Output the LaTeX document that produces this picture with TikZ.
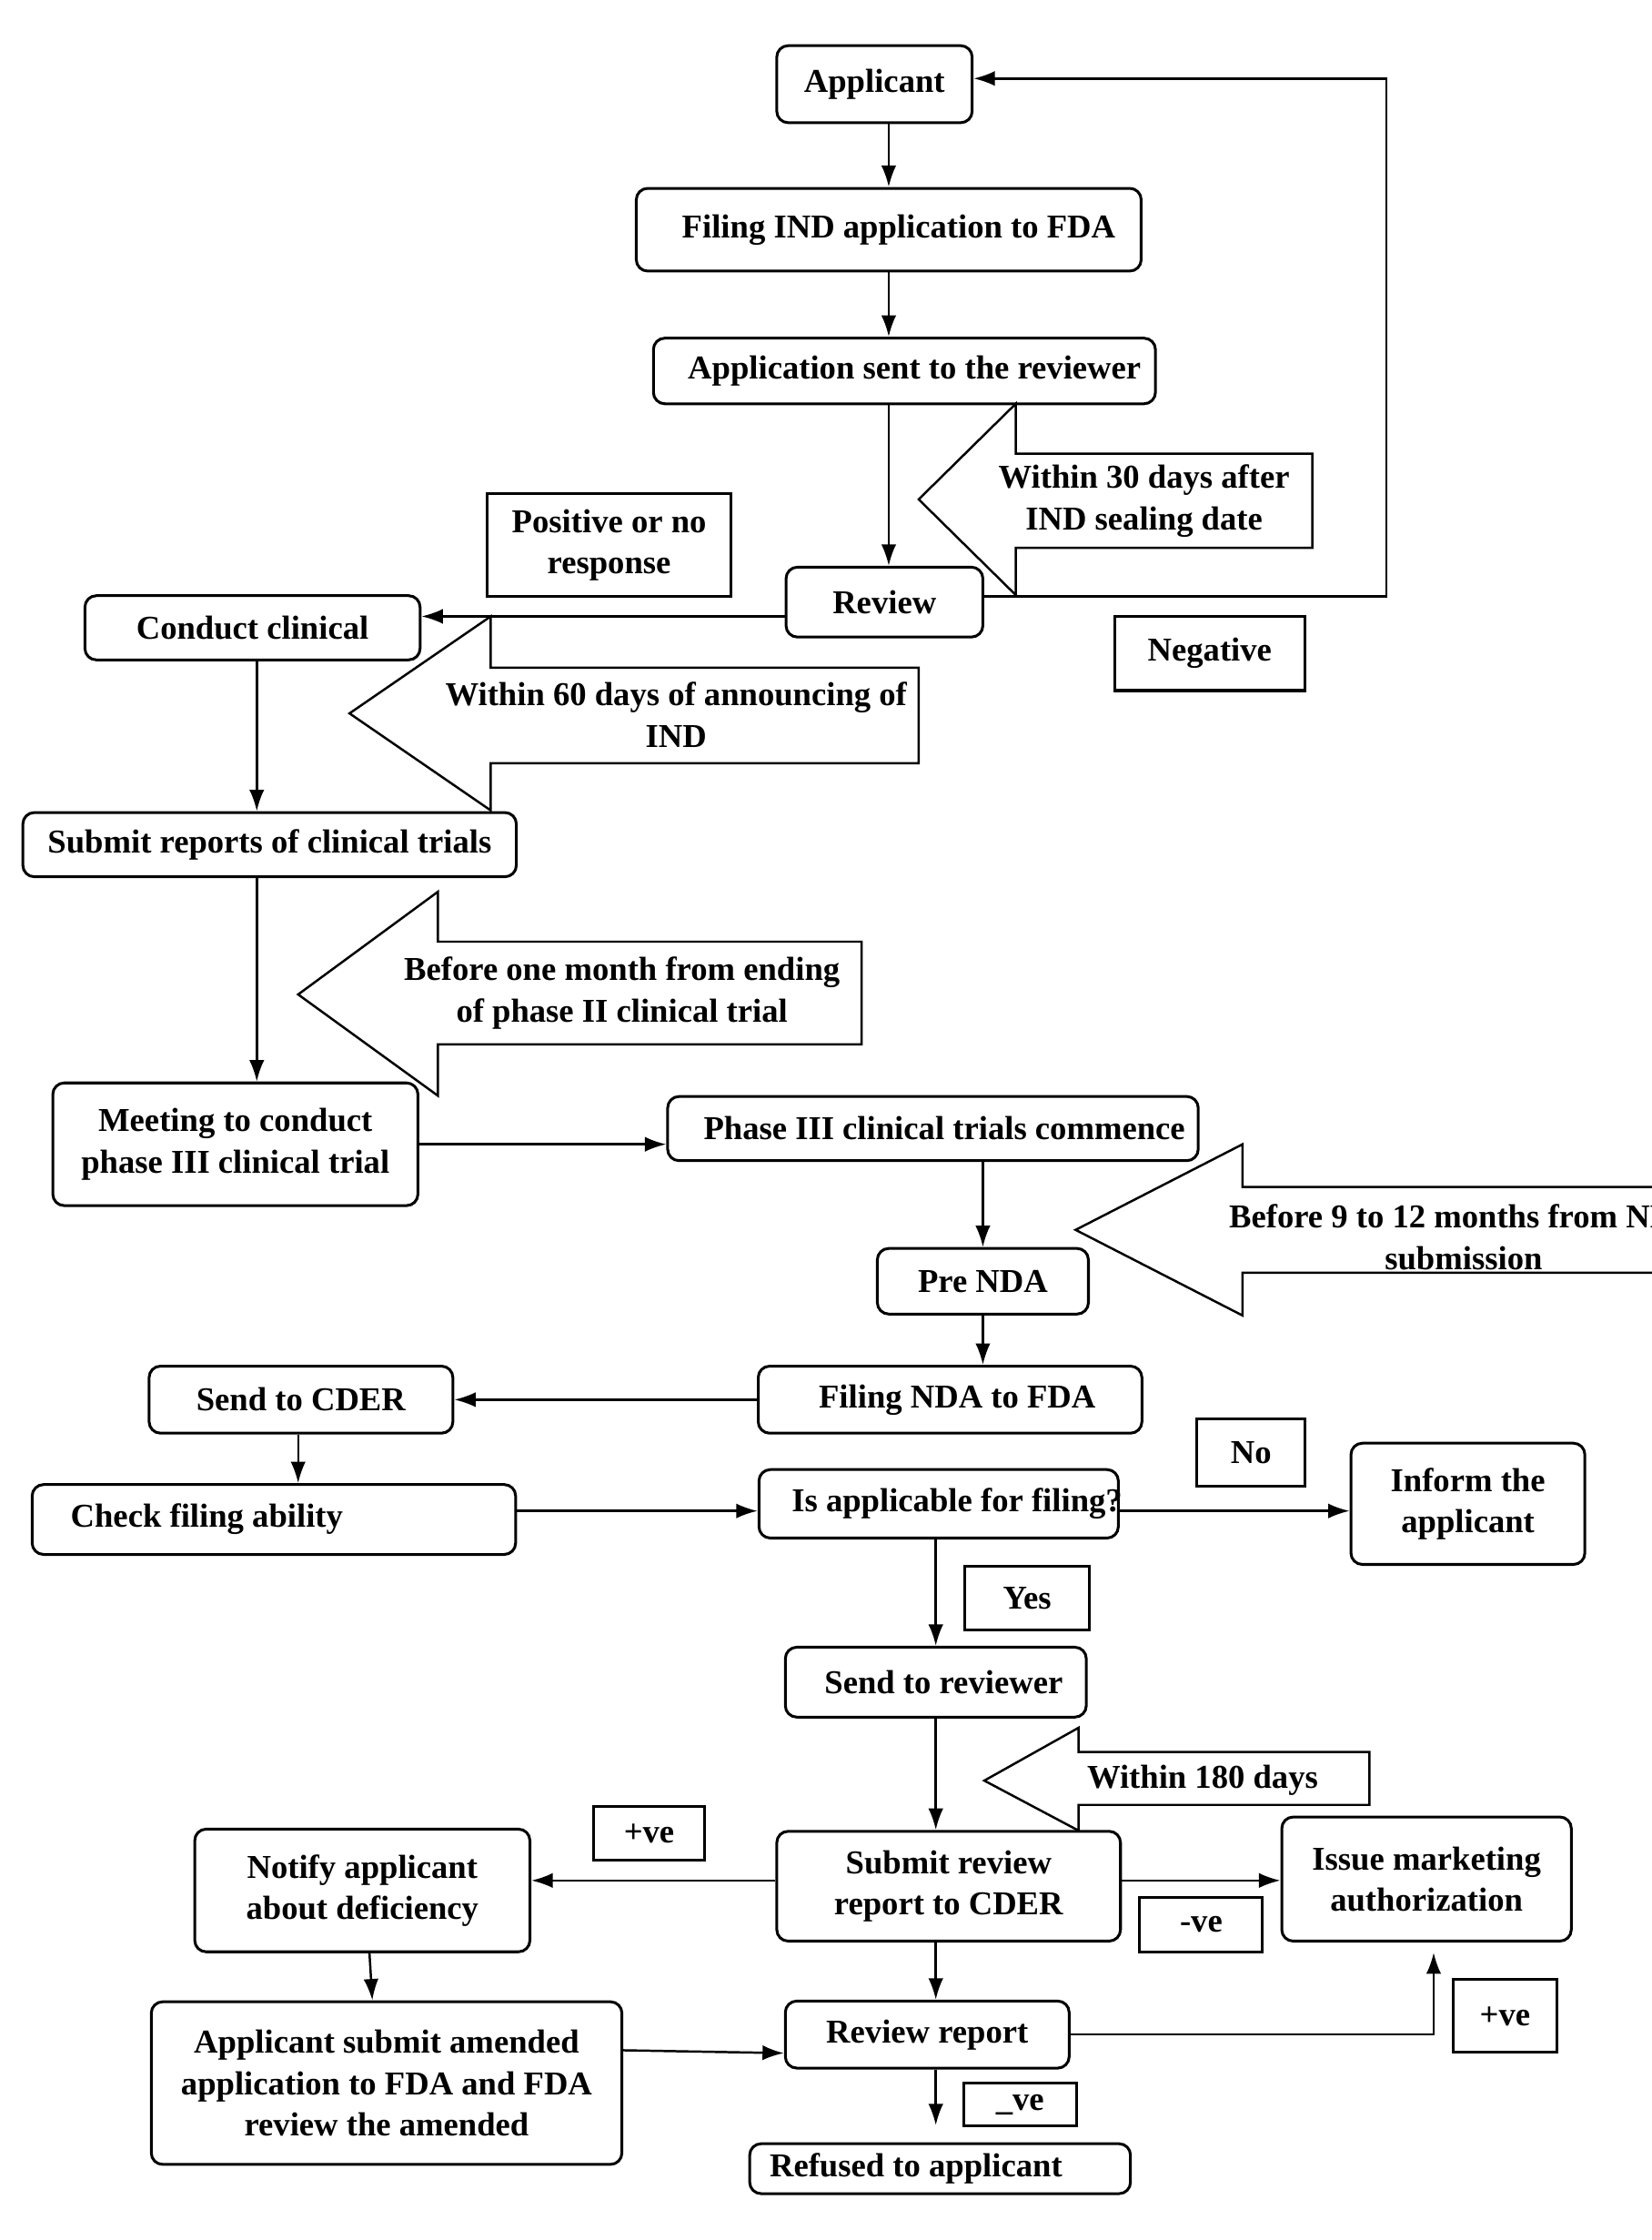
\documentclass[tikz,border=0pt]{standalone}
\usepackage{fontspec}
\setmainfont{Liberation Serif}
\usepackage{tikz}
\usetikzlibrary{arrows.meta,positioning}
\tikzset{stepbox/.style={draw,rounded corners=0.16cm,line width=1.1pt,inner sep=0,align=center,font=\bfseries\fontsize{13.3}{16.5}\selectfont}}
\tikzset{leftbox/.style={stepbox,align=left}}
\tikzset{tag/.style={draw,line width=1.1pt,inner sep=0,align=center,font=\bfseries\fontsize{13.3}{16.5}\selectfont}}
\tikzset{note/.style={inner sep=0,align=center,font=\bfseries\fontsize{13.3}{16.5}\selectfont}}
\tikzset{bigarrow/.style={draw,line width=0.9pt,line join=miter}}

\begin{document}
\begin{tikzpicture}[x=0.02cm,y=-0.02cm,>={Latex[length=0.3cm,width=0.21cm]},line width=0.9pt]
    \path[use as bounding box] (0,0) rectangle (1158,1570);
    \fill[white] (0,0) rectangle (1158,1570);
    \clip (0,0) rectangle (1158,1570);

    % steps
    \node[stepbox,minimum width=2.74cm,minimum height=1.08cm] (appl) at (613,59) {Applicant};
    \node[stepbox,minimum width=7.08cm,minimum height=1.16cm] (filind) at (623,161) {\hspace*{0.28cm}Filing IND application to FDA};
    \node[stepbox,minimum width=7.04cm,minimum height=0.92cm] (appsent) at (634,260) {\hspace*{0.28cm}Application sent to the reviewer};
    \node[stepbox,minimum width=2.76cm,minimum height=0.98cm] (review) at (620,422) {Review};
    \node[stepbox,minimum width=4.70cm,minimum height=0.90cm] (conduct) at (177,440) {Conduct clinical};
    \node[stepbox,minimum width=6.92cm,minimum height=0.90cm] (submit) at (189,592) {Submit reports of clinical trials};
    \node[stepbox,minimum width=5.12cm,minimum height=1.72cm] (meeting) at (165,802) {Meeting to conduct\\phase III clinical trial};
    \node[stepbox,minimum width=7.44cm,minimum height=0.90cm] (phase3) at (654,791) {\hspace*{0.32cm}Phase III clinical trials commence};
    \node[stepbox,minimum width=2.96cm,minimum height=0.92cm] (prenda) at (689,898) {Pre NDA};
    \node[stepbox,minimum width=5.38cm,minimum height=0.94cm] (filnda) at (666,981) {\hspace*{0.2cm}Filing NDA to FDA};
    \node[stepbox,minimum width=4.26cm,minimum height=0.94cm] (cder) at (211,981) {Send to CDER};
    \node[leftbox,minimum height=0.98cm,inner xsep=0.54cm] (check) at (192,1065) {\makebox[5.70cm][l]{Check filing ability}};
    \node[leftbox,minimum height=0.96cm,inner xsep=0.46cm] (isapp) at (658,1054) {\makebox[4.12cm][l]{Is applicable for filing?}};
    \node[stepbox,minimum width=3.28cm,minimum height=1.70cm] (inform) at (1029,1054) {Inform the\\applicant};
    \node[stepbox,minimum width=4.22cm,minimum height=0.98cm] (sendrev) at (656,1179) {\hspace*{0.22cm}Send to reviewer};
    \node[stepbox,minimum width=4.82cm,minimum height=1.54cm] (subrev) at (665,1322) {Submit review\\report to CDER};
    \node[stepbox,minimum width=4.70cm,minimum height=1.72cm] (notify) at (254,1325) {Notify applicant\\about deficiency};
    \node[stepbox,minimum width=4.06cm,minimum height=1.74cm] (issue) at (1000,1317) {Issue marketing\\authorization};
    \node[stepbox,minimum width=6.60cm,minimum height=2.28cm] (amend) at (271,1460) {Applicant submit amended\\application to FDA and FDA\\review the amended};
    \node[stepbox,minimum width=3.98cm,minimum height=0.94cm] (revrep) at (650,1426) {Review report};
    \node[leftbox,minimum height=0.70cm,inner xsep=0.28cm] (refused) at (659,1520) {\makebox[4.78cm][l]{Refused to applicant}};

    % answers
    \node[tag,minimum width=3.42cm,minimum height=1.44cm] (pos) at (427,382) {Positive or no\\response};
    \node[tag,minimum width=2.66cm,minimum height=1.04cm] (neg) at (848,458) {Negative};
    \node[tag,minimum width=1.52cm,minimum height=0.94cm] (no) at (877,1018) {No};
    \node[tag,minimum width=1.74cm,minimum height=0.90cm] (yes) at (720,1120) {Yes};
    \node[tag,minimum width=1.56cm,minimum height=0.76cm] (pveA) at (455,1285) {+ve};
    \node[tag,minimum width=1.72cm,minimum height=0.76cm] (mve) at (842,1349) {\raisebox{-0.1cm}{-ve}};
    \node[tag,minimum width=1.46cm,minimum height=1.02cm] (pveB) at (1055,1413) {+ve};
    \node[tag,minimum width=1.58cm,minimum height=0.60cm] (uve) at (715,1475) {\_ve};

    % time limits
    \draw[bigarrow] (644,350) -- (712,283) -- (712,318) -- (920,318) -- (920,384) -- (712,384) -- (712,417) -- cycle;
    \node[note] (t30) at (802,351) {Within 30 days after\\IND sealing date};
    \draw[bigarrow] (245,500) -- (344,432) -- (344,468) -- (644,468) -- (644,535) -- (344,535) -- (344,568) -- cycle;
    \node[note] (t60) at (474,501) {Within 60 days of announcing of\\IND};
    \draw[bigarrow] (209,697) -- (307,625) -- (307,660) -- (604,660) -- (604,732) -- (307,732) -- (307,768) -- cycle;
    \node[note] (tmonth) at (436,696) {Before one month from ending\\of phase II clinical trial};
    \draw[bigarrow] (754,862) -- (871,802) -- (871,832) -- (1200,832) -- (1200,892) -- (871,892) -- (871,922) -- cycle;
    \node[note] (tnda) at (1026,867) {Before 9 to 12 months from NDA\\submission};
    \draw[bigarrow] (690,1248) -- (756,1211) -- (756,1228) -- (960,1228) -- (960,1265) -- (756,1265) -- (756,1283) -- cycle;
    \node[note] (t180) at (843,1248) {Within 180 days};

    % flow
    \coordinate (back) at (972,55);
    \draw [->] (appl.south -| filind) to [] (filind);
    \draw [->] (filind) to [] (filind |- appsent.north);
    \draw [->] (filind |- appsent.south) to [] (filind |- review.north);
    \draw [->] ([yshift=0.08cm]review.east) -| (back) to [] (back -| appl.east);
    \draw [->] ([yshift=-0.2cm]review.west) to [] ([yshift=-0.2cm]review.west -| conduct.east);
    \draw [->] ([xshift=0.06cm]conduct.south) to [] ([xshift=0.06cm]conduct.south |- submit.north);
    \draw [->] ([xshift=0.06cm]conduct.south |- submit.south) to [] ([xshift=0.06cm]conduct.south |- meeting.north);
    \draw [->] (meeting.east) to [] (meeting.east -| phase3.west);
    \draw [->] (phase3.south -| prenda) to [] (prenda);
    \draw [->] (prenda) to [] (prenda |- filnda.north);
    \draw [->] (filnda) to [] (cder);
    \draw [->] ([xshift=-0.04cm]cder.south) to [] ([xshift=-0.04cm]cder.south |- check.north);
    \draw [->] ([yshift=0.12cm]check.east) to [] ([yshift=0.12cm]check.east -| isapp.west);
    \draw [->] ([yshift=-0.1cm]isapp.east) to [] ([yshift=-0.1cm]isapp.east -| inform.west);
    \draw [->] (isapp.south -| sendrev) to [] (sendrev);
    \draw [->] (sendrev) to [] (sendrev |- subrev.north);
    \draw [->] ([yshift=0.08cm]subrev.west) to [] ([yshift=0.08cm]subrev.west -| notify.east);
    \draw [->] ([yshift=0.08cm]subrev.east) to [] ([yshift=0.08cm]subrev.east -| issue.west);
    \draw [->] (sendrev |- subrev.south) to [] (sendrev |- revrep.north);
    \draw [->] ([xshift=0.1cm]notify.south) to [] ([xshift=0.14cm]notify.south |- amend.north);
    \draw [->] ([yshift=0.46cm]amend.east) to [] ([yshift=-0.26cm]revrep.west);
    \draw [->,shorten >=0.14cm] (revrep.east) -| ([xshift=0.1cm]issue.south);
    \draw [->,shorten >=0.24cm] (sendrev |- revrep.south) to [] (sendrev |- refused.north);
\end{tikzpicture}
\end{document}
